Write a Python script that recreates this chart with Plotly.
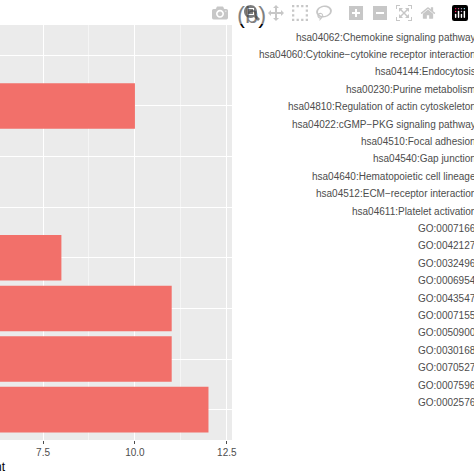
import plotly.graph_objects as go

# Left panel (a): bar counts by row (top to bottom); rows 0,2,3 fall off the visible window
rows = [0, 1, 2, 3, 4, 5, 6, 7]
counts = [5, 10, 5, 4, 8, 11, 11, 12]
xticks = [7.5, 10.0, 12.5]
xtick_text = ["7.5", "10.0", "12.5"]

# Right panel (b) labels
terms_b = [
    "hsa04062:Chemokine signaling pathway",
    "hsa04060:Cytokine\u2212cytokine receptor interaction",
    "hsa04144:Endocytosis",
    "hsa00230:Purine metabolism",
    "hsa04810:Regulation of actin cytoskeleton",
    "hsa04022:cGMP\u2212PKG signaling pathway",
    "hsa04510:Focal adhesion",
    "hsa04540:Gap junction",
    "hsa04640:Hematopoietic cell lineage",
    "hsa04512:ECM\u2212receptor interaction",
    "hsa04611:Platelet activation",
    "GO:0007166",
    "GO:0042127",
    "GO:0032496",
    "GO:0006954",
    "GO:0043547",
    "GO:0007155",
    "GO:0050900",
    "GO:0030168",
    "GO:0070527",
    "GO:0007596",
    "GO:0002576",
]

fig = go.Figure()
fig.add_trace(go.Bar(x=counts, y=rows, orientation="h", width=0.9,
                     marker=dict(color="#F2706A", line=dict(width=0)), showlegend=False))

fig.update_layout(
    width=474, height=474,
    margin=dict(l=0, r=242, t=25, b=34),
    paper_bgcolor="white", plot_bgcolor="#EBEBEB",
    font=dict(family="Liberation Sans, Arial", color="#4D4D4D"),
    xaxis=dict(range=[6.33, 12.64], tickvals=xticks, ticktext=xtick_text,
               gridcolor="white", gridwidth=1.2, zeroline=False, ticks="outside",
               ticklen=3, tickcolor="#4D4D4D", tickfont=dict(size=10, color="#4D4D4D"),
               minor=dict(tickvals=[8.75, 11.25], showgrid=True, gridcolor="#F5F5F5", gridwidth=0.6)),
    yaxis=dict(range=[7.6, -0.6], tickvals=rows, showticklabels=False,
               gridcolor="white", gridwidth=1.2, zeroline=False),
    bargap=0.1,
)

fig.add_annotation(text="(b)", x=0, y=1, xref="paper", yref="paper", xshift=235, yshift=26,
                   xanchor="left", yanchor="top", showarrow=False,
                   font=dict(size=24, color="black"))
fig.add_annotation(text="Count", x=0, y=0, xref="paper", yref="paper", xshift=8, yshift=-18,
                   xanchor="right", yanchor="top", showarrow=False,
                   font=dict(size=12, color="black"))

top_px, step_px = 37, 17.4
for i, t in enumerate(terms_b):
    ypx = top_px + i * step_px
    fig.add_annotation(text=t, x=1, y=1, xref="paper", yref="paper",
                       xshift=242 + 4, yshift=25 - ypx,
                       xanchor="right", yanchor="middle", showarrow=False,
                       font=dict(size=10, color="#4D4D4D"))

fig.write_html("out.html", post_script="document.body.style.margin='0';document.body.style.overflow='hidden';")
